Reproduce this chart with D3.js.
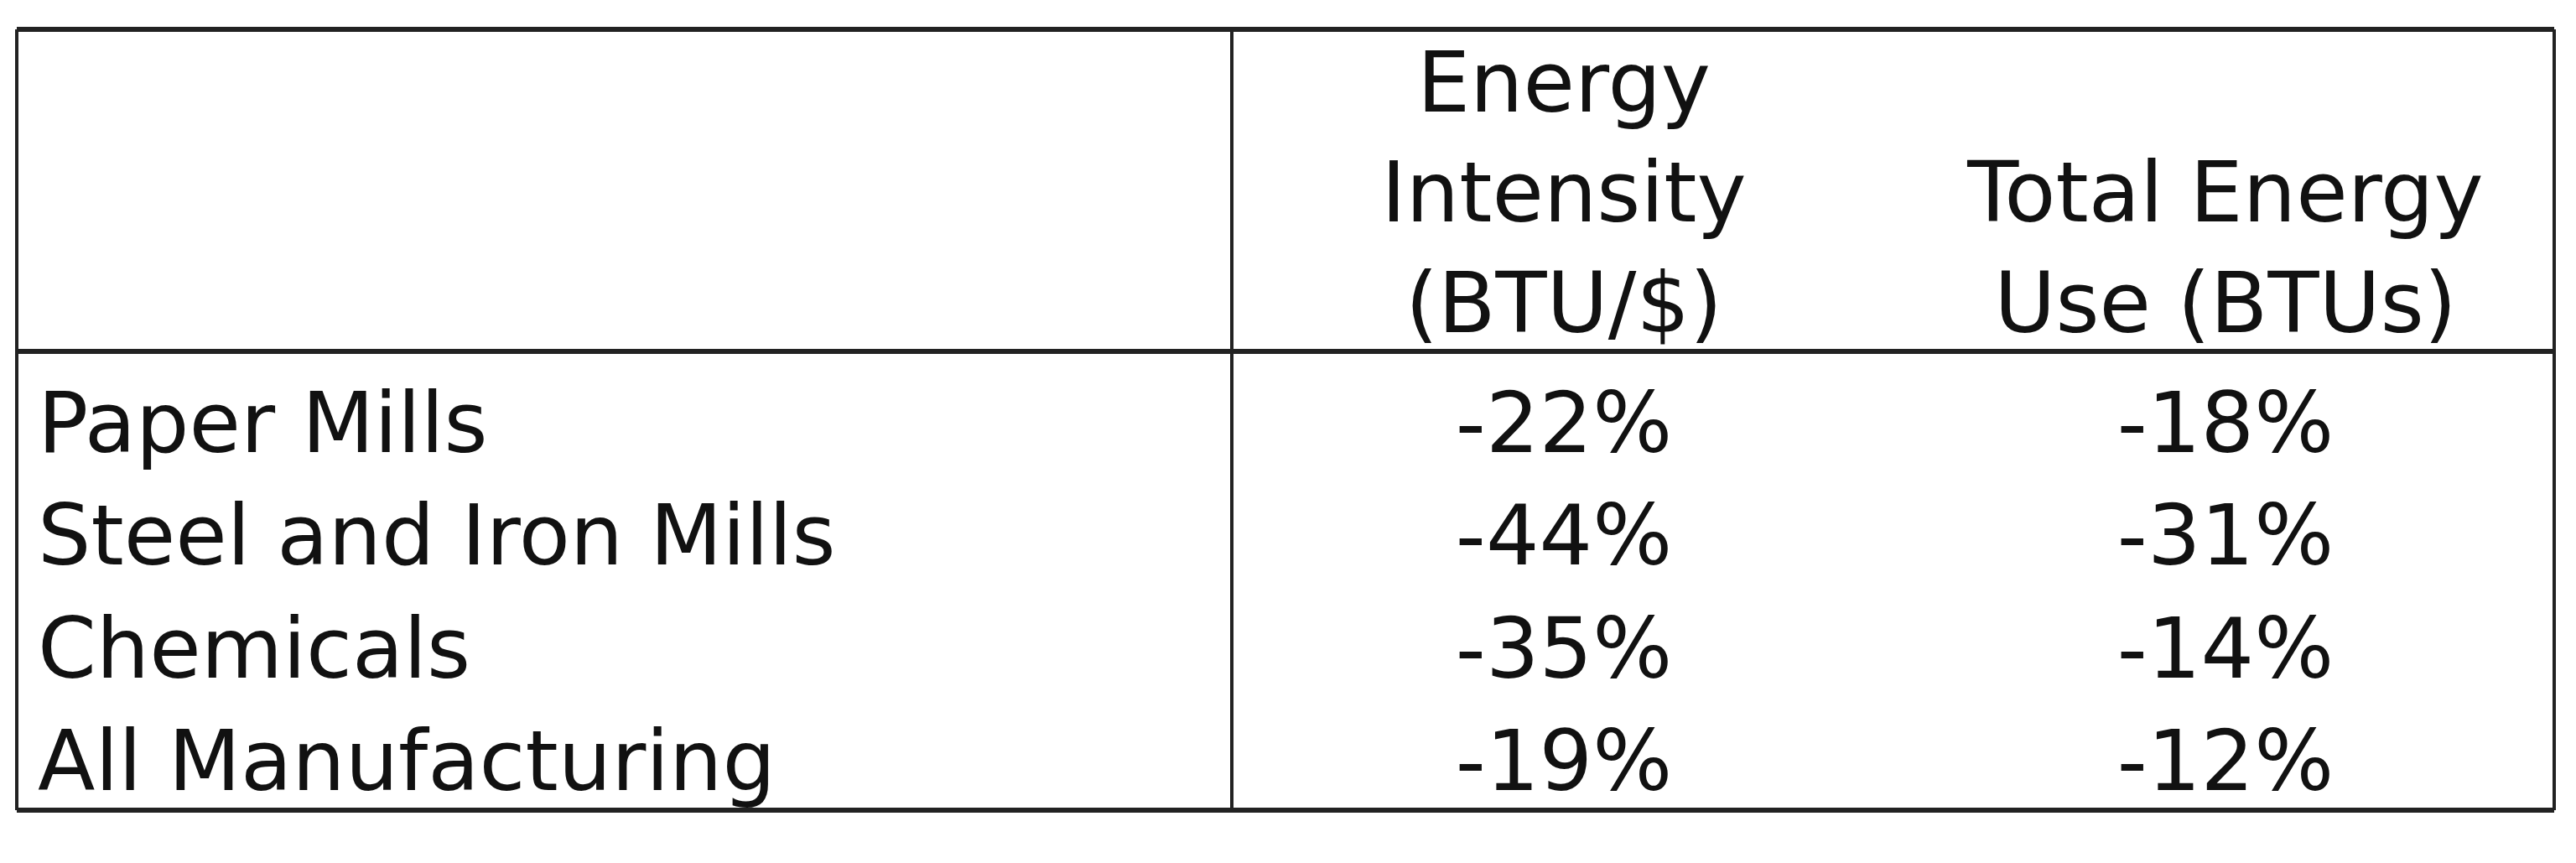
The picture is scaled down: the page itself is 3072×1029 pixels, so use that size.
<!DOCTYPE html>
<html><head><meta charset="utf-8">
<script src="https://cdn.jsdelivr.net/npm/d3@7"></script>
<style>body{margin:0;background:#fff}</style>
</head><body>
<script>
// table data
const rows = ["Paper Mills", "Steel and Iron Mills", "Chemicals", "All Manufacturing"];
const intensity = ["-22%", "-44%", "-35%", "-19%"];
const totalUse = ["-18%", "-31%", "-14%", "-12%"];
const headers = [["Energy", "Intensity", "(BTU/$)"], ["Total Energy", "Use (BTUs)"]];

const W = 3072, H = 1029;
const svg = d3.select("body").append("svg").attr("width", W).attr("height", H);
const font = "DejaVu Sans, Verdana, sans-serif";
const fs = 100;

const xLeft = 20, xRight = 3046, yTop = 35, yBottom = 966, headBottom = 419, colSplit = 1469;
const colX = [45, 1865, 2654];

// row baselines through a point scale
const y = d3.scalePoint().domain(rows).range([539, 942]);

// borders
const line = (x1, y1, x2, y2, w) => svg.append("line")
  .attr("x1", x1).attr("y1", y1).attr("x2", x2).attr("y2", y2)
  .attr("stroke", "#222").attr("stroke-width", w);
line(xLeft, yTop, xRight, yTop, 6);
line(xLeft, yBottom, xRight, yBottom, 6);
line(xLeft, headBottom, xRight, headBottom, 6);
line(xLeft, yTop, xLeft, yBottom, 4);
line(xRight, yTop, xRight, yBottom, 4);
line(colSplit, yTop, colSplit, yBottom, 4);

// header text
const hb = [[133, 264, 396], [264, 396]];
headers.forEach((h, i) => {
  h.forEach((t, j) => {
    svg.append("text").attr("x", colX[i + 1]).attr("y", hb[i][j])
      .attr("text-anchor", "middle").attr("font-family", font).attr("font-size", fs)
      .attr("fill", "#111").text(t);
  });
});

rows.forEach((r, i) => {
  svg.append("text").attr("x", colX[0]).attr("y", y(r))
    .attr("font-family", font).attr("font-size", fs).attr("fill", "#111").text(r);
  svg.append("text").attr("x", colX[1]).attr("y", y(r)).attr("text-anchor", "middle")
    .attr("font-family", font).attr("font-size", fs).attr("fill", "#111").text(intensity[i]);
  svg.append("text").attr("x", colX[2]).attr("y", y(r)).attr("text-anchor", "middle")
    .attr("font-family", font).attr("font-size", fs).attr("fill", "#111").text(totalUse[i]);
});
</script>
</body></html>
